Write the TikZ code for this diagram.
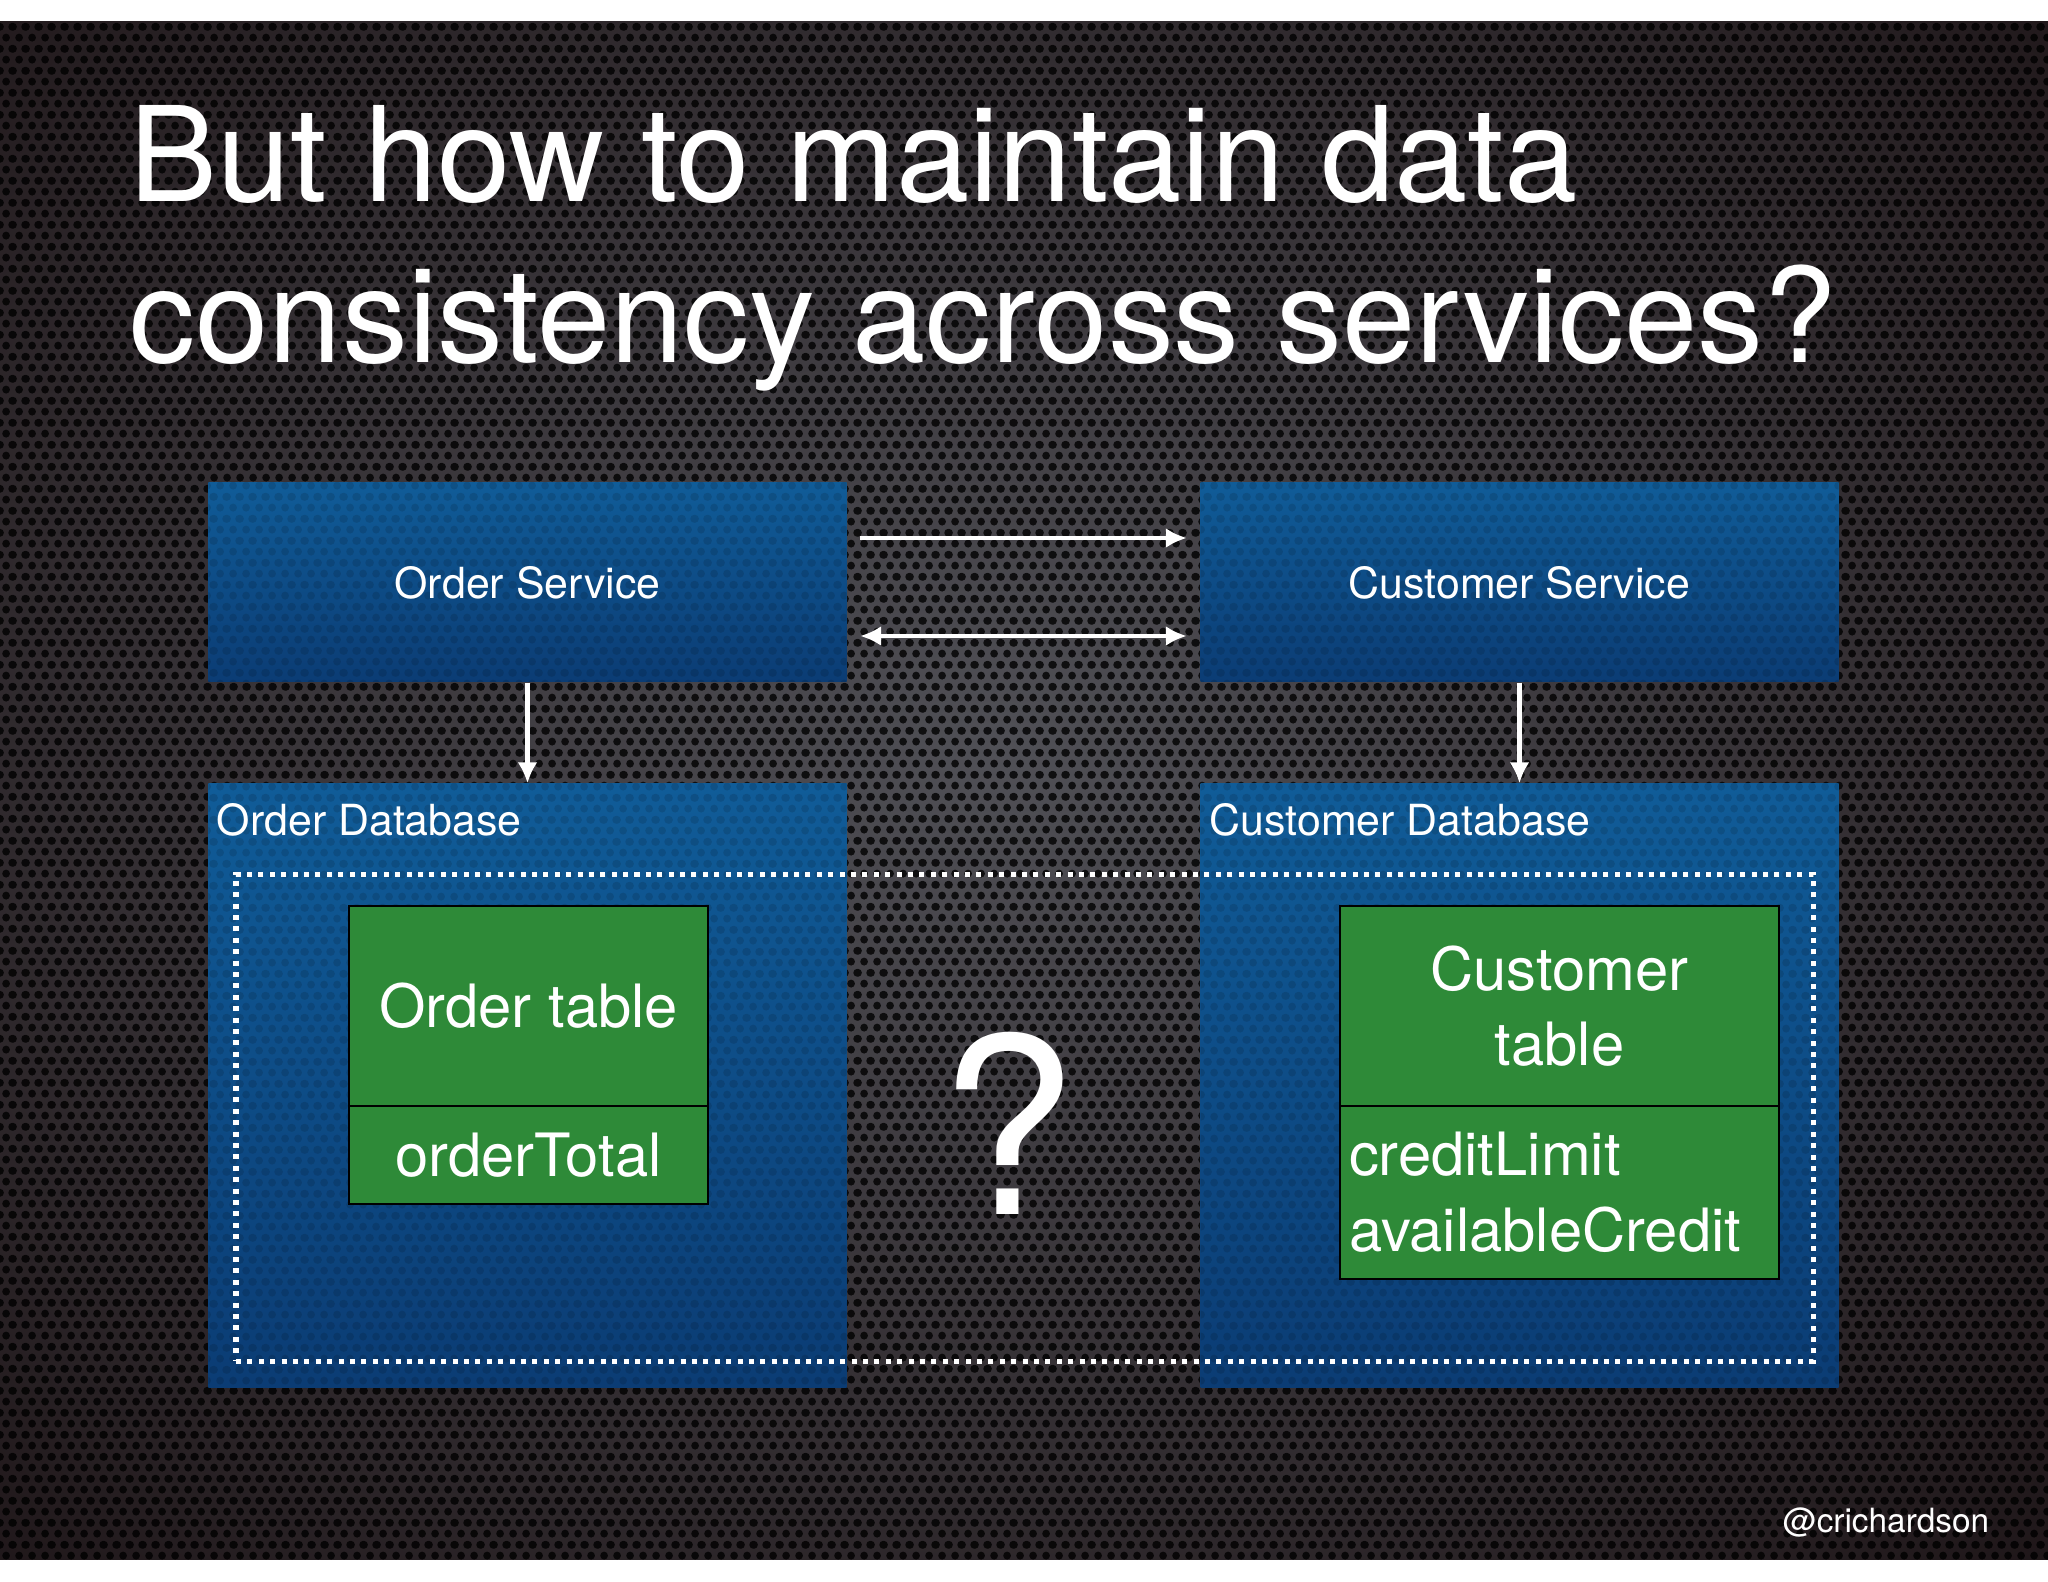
\documentclass[tikz,border=0pt]{standalone}
\usepackage{fontspec}
\setmainfont{TeX Gyre Heros}
\usetikzlibrary{arrows.meta,calc,positioning,patterns}
\definecolor{slidebg}{RGB}{80,80,86}
\definecolor{slideedge}{RGB}{22,12,14}
\definecolor{svctop}{RGB}{16,92,152}
\definecolor{svcbottom}{RGB}{11,60,116}
\definecolor{tablegreen}{RGB}{46,138,56}
% perforated metal
\pgfdeclarepatternformonly{holes}{\pgfqpoint{0pt}{0pt}}{\pgfqpoint{3.58pt}{6.2pt}}{\pgfqpoint{3.58pt}{6.2pt}}{
	\pgfpathcircle{\pgfqpoint{1.79pt}{1.55pt}}{1.14pt}
	\pgfpathcircle{\pgfqpoint{0pt}{4.65pt}}{1.14pt}
	\pgfpathcircle{\pgfqpoint{3.58pt}{4.65pt}}{1.14pt}
	\pgfusepath{fill}
}

\tikzset{
	svcbox/.style={rectangle,top color=svctop,bottom color=svcbottom,draw=none,
		text=white,font=\fontsize{12.2}{14}\selectfont,inner sep=0pt,
		minimum width=6.38cm,minimum height=1.99cm,
		postaction={pattern=holes,pattern color=black,fill opacity=0.12}},
	dbbox/.style={svcbox,minimum height=6.03cm},
	dblabel/.style={text=white,font=\fontsize{12.2}{14}\selectfont,inner sep=0pt,anchor=base west},
	tablebox/.style={rectangle,fill=tablegreen,draw=black,line width=0.7pt,text=white,
		font=\fontsize{17}{21.5}\selectfont,inner sep=0pt,minimum width=3.59cm},
	flow/.style={draw=white,line width=0.042cm,-{Latex[length=0.21cm,width=0.2cm]}},
	syncbox/.style={rectangle,draw=white,line width=0.05cm,dash pattern=on 0.05cm off 0.064cm,
		minimum width=15.77cm,minimum height=4.87cm,inner sep=0pt},
	headline/.style={text=white,font=\fontsize{37.5}{45}\selectfont,inner sep=0pt,anchor=base west}
}

\begin{document}
\begin{tikzpicture}[x=1cm,y=-1cm]
			\useasboundingbox (0,0) rectangle (20.48,15.82);
			\fill[white] (0,0) rectangle (20.48,15.82);
			\begin{scope}
				\clip (0,0.22) rectangle (20.48,15.59);
				\fill[inner color=slidebg,outer color=slideedge] (-7.5,-6) rectangle (27.5,21);
				\fill[pattern=holes,pattern color=black,fill opacity=0.8] (0,0.22) rectangle (20.48,15.59);
			\end{scope}
			% title
			\node[headline] (title1) at (1.29,2.02) {But how to maintain data};
			\node[headline] (title2) at (1.29,3.63) {consistency across services?};
			% services
			\node[svcbox] (ordsvc) at (5.275,5.825) {Order Service};
			\node[svcbox] (custsvc) at (15.195,5.825) {Customer Service};
			% databases
			\node[dbbox] (orddb) at (5.275,10.855) {};
			\node[dbbox] (custdb) at (15.195,10.855) {};
			\node[dblabel] (orddbname) at (2.16,8.36) {Order Database};
			\node[dblabel] (custdbname) at (12.09,8.36) {Customer Database};
			\node[syncbox] (sync) at (10.245,11.175) {};
			% tables
			\node[tablebox,minimum height=2.0cm] (ordtbl) at (5.285,10.06) {Order table};
			\node[tablebox,minimum height=0.98cm] (ordfields) at (5.285,11.55) {orderTotal};
			\node[tablebox,minimum width=4.39cm,minimum height=2.0cm,align=center] (custtbl) at (15.595,10.06) {Customer\\table};
			\node[tablebox,minimum width=4.39cm,minimum height=1.73cm,text width=4.21cm,align=left] (custfields) at (15.595,11.925) {creditLimit\\availableCredit};
			\node[text=white,font=\fontsize{70}{80}\selectfont,inner sep=0pt] (unknown) at (10.08,11.23) {?};
			% arrows
			\draw[flow] ($(ordsvc.east)+(0.13,-0.445)$) -- ($(custsvc.west)+(-0.13,-0.445)$);
			\draw[flow,{Latex[length=0.21cm,width=0.2cm]}-{Latex[length=0.21cm,width=0.2cm]}] ($(ordsvc.east)+(0.13,0.535)$) -- ($(custsvc.west)+(-0.13,0.535)$);
			\draw[flow] (ordsvc.south) -- (orddb.north);
			\draw[flow] (custsvc.south) -- (custdb.north);
			\node[text=white,font=\fontsize{9.5}{11}\selectfont,inner sep=0pt,anchor=base east] (handle) at (19.9,15.32) {@crichardson};
		\end{tikzpicture}
\end{document}
